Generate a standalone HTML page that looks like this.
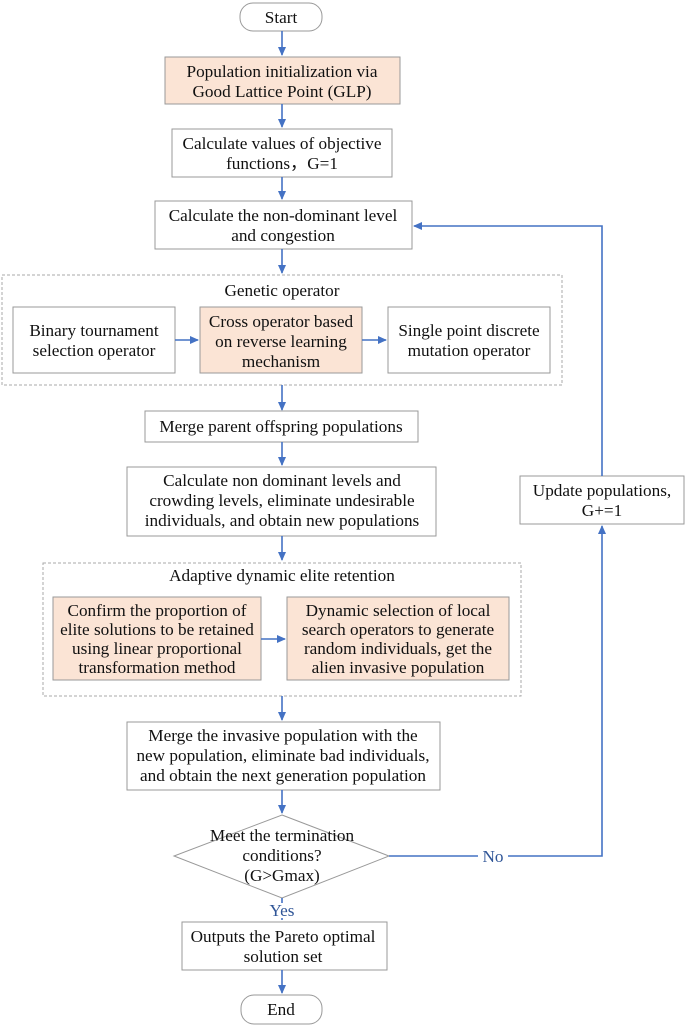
<!DOCTYPE html>
<html><head><meta charset="utf-8"><style>
html,body{margin:0;padding:0;background:#fff}
svg{display:block}
text{font-family:"Liberation Serif",serif;font-size:17.2px;fill:#111;text-anchor:middle}
.b{fill:#fff;stroke:#999;stroke-width:1}
.p{fill:#fbe4d5;stroke:#999;stroke-width:1}
.d{fill:none;stroke:#aaa;stroke-width:1;stroke-dasharray:3,2}
.l{fill:none;stroke:#4472c4;stroke-width:1.6}
</style></head><body>
<svg width="685" height="1028" viewBox="0 0 685 1028">
<defs><marker id="a" markerWidth="10" markerHeight="10" refX="8" refY="5" orient="auto" markerUnits="userSpaceOnUse"><path d="M0,1 L9,5 L0,9 z" fill="#4472c4"/></marker></defs>

<rect class="b" x="240" y="3" width="82" height="28" rx="13"/>
<text x="281" y="23">Start</text>
<path class="l" d="M282,31 V55" marker-end="url(#a)"/>

<rect class="p" x="165" y="57" width="235" height="47"/>
<text x="282" y="77">Population initialization via</text>
<text x="282" y="97">Good Lattice Point (GLP)</text>
<path class="l" d="M282,104 V127" marker-end="url(#a)"/>

<rect class="b" x="172" y="129" width="220" height="48"/>
<text x="282" y="149">Calculate values of objective</text>
<text x="282" y="169">functions，G=1</text>
<path class="l" d="M282,177 V199" marker-end="url(#a)"/>

<rect class="b" x="155" y="201" width="257" height="48"/>
<text x="283" y="221">Calculate the non-dominant level</text>
<text x="283" y="241">and congestion</text>
<path class="l" d="M282,249 V273" marker-end="url(#a)"/>

<rect class="d" x="2" y="275" width="560" height="110"/>
<text x="282" y="296">Genetic operator</text>
<rect class="b" x="13" y="307" width="162" height="66"/>
<text x="94" y="336">Binary tournament</text>
<text x="94" y="356">selection operator</text>
<rect class="p" x="200" y="307" width="162" height="66"/>
<text x="281" y="327">Cross operator based</text>
<text x="281" y="347">on reverse learning</text>
<text x="281" y="367">mechanism</text>
<rect class="b" x="388" y="307" width="162" height="66"/>
<text x="469" y="336">Single point discrete</text>
<text x="469" y="356">mutation operator</text>
<path class="l" d="M175,340 H198" marker-end="url(#a)"/>
<path class="l" d="M362,340 H386" marker-end="url(#a)"/>
<path class="l" d="M282,385 V410" marker-end="url(#a)"/>

<rect class="b" x="145" y="411" width="273" height="31"/>
<text x="281" y="432">Merge parent offspring populations</text>
<path class="l" d="M282,442 V465" marker-end="url(#a)"/>

<rect class="b" x="127" y="467" width="309" height="69"/>
<text x="282" y="486">Calculate non dominant levels and</text>
<text x="282" y="506">crowding levels, eliminate undesirable</text>
<text x="282" y="526">individuals, and obtain new populations</text>
<path class="l" d="M282,536 V560" marker-end="url(#a)"/>

<rect class="d" x="43" y="563" width="478" height="133"/>
<text x="282" y="581">Adaptive dynamic elite retention</text>
<rect class="p" x="53" y="597" width="208" height="83"/>
<text x="157" y="616">Confirm the proportion of</text>
<text x="157" y="635">elite solutions to be retained</text>
<text x="157" y="654">using linear proportional</text>
<text x="157" y="673">transformation method</text>
<rect class="p" x="287" y="597" width="222" height="83"/>
<text x="398" y="616">Dynamic selection of local</text>
<text x="398" y="635">search operators to generate</text>
<text x="398" y="654">random individuals, get the</text>
<text x="398" y="673">alien invasive population</text>
<path class="l" d="M261,639 H285" marker-end="url(#a)"/>
<path class="l" d="M282,696 V720" marker-end="url(#a)"/>

<rect class="b" x="127" y="722" width="313" height="68"/>
<text x="283" y="741">Merge the invasive population with the</text>
<text x="283" y="761">new population, eliminate bad individuals,</text>
<text x="283" y="781">and obtain the next generation population</text>
<path class="l" d="M282,790 V813" marker-end="url(#a)"/>

<polygon points="282,815 389,856 282,898 174,856" fill="#fff" stroke="#999"/>
<text x="282" y="841">Meet the termination</text>
<text x="282" y="861">conditions?</text>
<text x="282" y="881">(G&gt;Gmax)</text>
<path class="l" d="M389,856 H602 V526" marker-end="url(#a)"/>
<rect x="478" y="846" width="30" height="18" fill="#fff"/>
<text x="493" y="862" style="fill:#2f5597">No</text>

<path class="l" d="M282,898 V920"/>
<rect x="264" y="903" width="36" height="15" fill="#fff"/>
<text x="282" y="916" style="fill:#2f5597">Yes</text>

<rect class="b" x="182" y="922" width="205" height="48"/>
<text x="283" y="942">Outputs the Pareto optimal</text>
<text x="283" y="962">solution set</text>
<path class="l" d="M282,970 V993" marker-end="url(#a)"/>

<rect class="b" x="241" y="995" width="81" height="29" rx="13"/>
<text x="281" y="1015">End</text>

<rect class="b" x="520" y="476" width="164" height="48"/>
<text x="602" y="496">Update populations,</text>
<text x="602" y="516">G+=1</text>
<path class="l" d="M602,476 V226 H414" marker-end="url(#a)"/>
</svg>
</body></html>
